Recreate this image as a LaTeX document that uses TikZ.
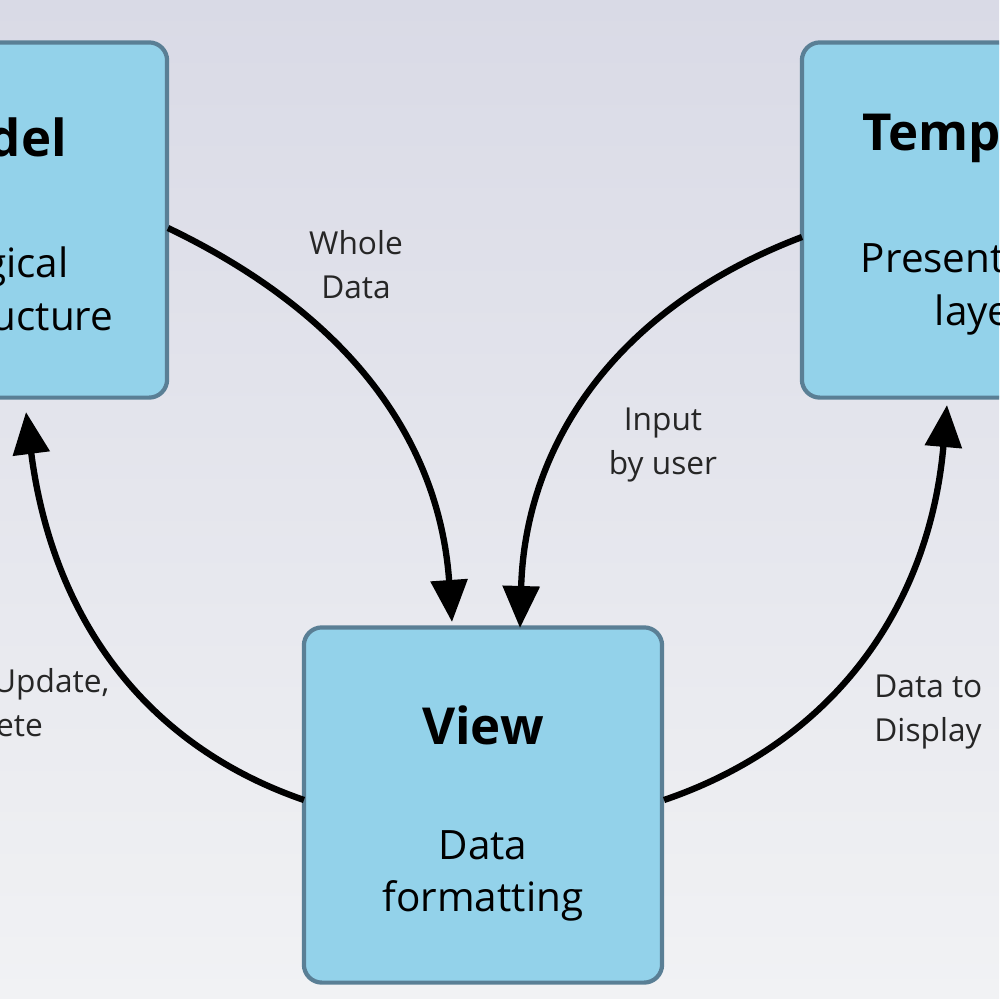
\documentclass[tikz,border=0pt]{standalone}
\usepackage{fontspec}
\setmainfont{Open Sans}
\usetikzlibrary{arrows.meta}
\definecolor{boxfill}{HTML}{93D2EA}
\definecolor{boxdraw}{HTML}{5A7F95}
\definecolor{bgtop}{HTML}{D9DAE6}
\definecolor{bgbot}{HTML}{F1F2F4}
\begin{document}
\begin{tikzpicture}[x=0.01cm,y=-0.01cm,
  box/.style={draw=boxdraw,line width=1.2pt,fill=boxfill,rounded corners=0.18cm,minimum width=3.58cm,minimum height=3.55cm},
  ttl/.style={font=\fontsize{14.5}{16}\selectfont\bfseries},
  txt/.style={font=\fontsize{11.5}{15}\selectfont,align=center},
  lbl/.style={font=\fontsize{9}{12.5}\selectfont,align=center,text=black!85},
  arr/.style={line width=1.8pt,-{Triangle[length=0.42cm,width=0.36cm]}}]
\useasboundingbox (0,0) rectangle (999,999);
\clip (0,0) rectangle (999,999);
\shade[top color=bgtop,bottom color=bgbot] (0,0) rectangle (999,999);
\node[box] (model) at (-12,220) {};
\node[box] (tmpl) at (981,220) {};
\node[box] (view) at (483,805) {};
\node[ttl] (mt) at (-12,137) {Model};
\node[txt,align=left,anchor=west,inner sep=0pt] (ms) at (-62,289) {Logical\\Structure};
\node[txt] (ts) at (981,289) {Presentation\\layer};
\node[ttl] (tt) at (981,137) {Template};
\node[ttl] (vt) at (483,725) {View};
\node[txt] (vs) at (483,876) {Data\\formatting};
\coordinate (a1) at (168,228);
\coordinate (a2) at (802,237);
\coordinate (a3) at (304,800);
\coordinate (a4) at (664,800);
\draw[arr] (a1) .. controls (360,320) and (440,450) .. (452,622);
\draw[arr] (a2) .. controls (610,310) and (525,450) .. (520,628);
\draw[arr] (a3) .. controls (130,740) and (50,600) .. (26,412);
\draw[arr] (a4) .. controls (840,740) and (930,600) .. (947,405);
\node[lbl] (l1) at (356,265) {Whole\\Data};
\node[lbl] (l2) at (663,445) {Input\\by user};
\node[lbl] (l3) at (-5,703) {Create, Update,\\Delete};
\node[lbl,align=left,anchor=west] (l4) at (862,712) {Data to\\Display};
\end{tikzpicture}
\end{document}
